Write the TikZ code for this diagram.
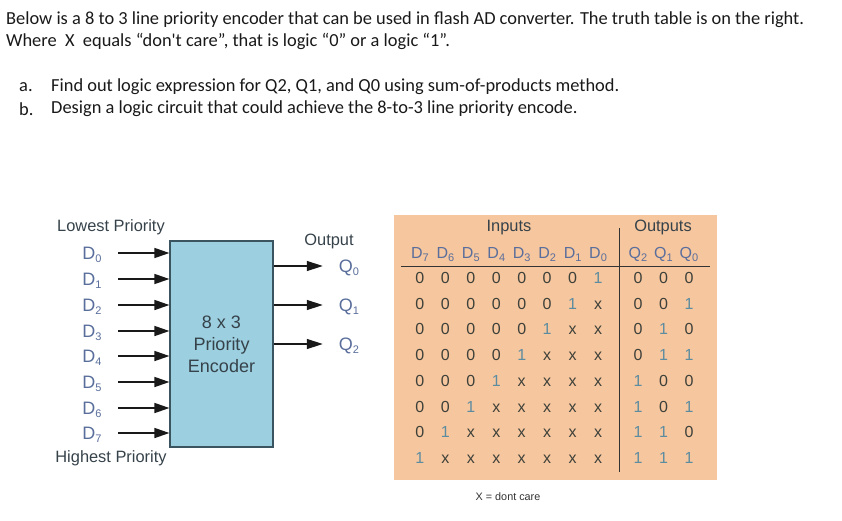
\documentclass[tikz,border=0pt]{standalone}
\usepackage{fontspec}
\setmainfont{Liberation Sans}
\newfontfamily\notefont{Carlito}
\usetikzlibrary{arrows.meta}

\definecolor{labelgray}{HTML}{36424A}
\definecolor{signalblue}{HTML}{5A6E9C}
\definecolor{blockblue}{HTML}{9CCFE0}
\definecolor{blockedge}{HTML}{3A5560}
\definecolor{tabletan}{HTML}{F6C69E}
\definecolor{digitgray}{HTML}{3E413A}
\definecolor{onecyan}{HTML}{5C8CA0}

\newcommand{\sg}[2]{\textcolor{signalblue}{#1\raisebox{-2.5pt}{\fontsize{11}{11}\selectfont #2}}}
\newcommand{\one}{\textcolor{onecyan}{1}}
\newcommand{\incells}[8]{\makebox[25.45pt]{#1}\makebox[25.45pt]{#2}\makebox[25.45pt]{#3}\makebox[25.45pt]{#4}\makebox[25.45pt]{#5}\makebox[25.45pt]{#6}\makebox[25.45pt]{#7}\makebox[25.45pt]{#8}}
\newcommand{\outcells}[3]{\makebox[25.5pt]{#1}\makebox[25.5pt]{#2}\makebox[25.5pt]{#3}}

\tikzset{
  notetext/.style={anchor=west,inner sep=0pt,text=black!90,font=\notefont\fontsize{18.4}{20}\selectfont},
  caption/.style={inner sep=0pt,text=labelgray,font=\fontsize{16.4}{18}\selectfont},
  inlabel/.style={inner sep=0pt,minimum width=52pt,text height=13pt,text depth=0pt,font=\fontsize{18}{20}\selectfont},
  inarrow/.style={-{Triangle[length=15pt,width=10pt]},line width=1.5pt,black!90},
  outarrow/.style={-{Triangle[length=16pt,width=10pt]},line width=1.2pt,black!90},
  rowtext/.style={inner sep=0pt,text=digitgray,text height=11pt,text depth=0pt,font=\fontsize{16}{17}\selectfont},
  headtext/.style={inner sep=0pt,text height=11pt,text depth=0pt,font=\fontsize{16}{17}\selectfont}
}

\begin{document}
\begin{tikzpicture}[x=1pt,y=-1pt]
  \useasboundingbox (0,0) rectangle (842,520);

  \node [notetext] (line1) at (6,19.5) {Below is a 8 to 3 line priority encoder that can be used in flash AD converter. The truth table is on the right.};
  \node [notetext] (line2) at (6,41.5) {Where\ \ X\ \ equals “don't care”, that is logic “0” or a logic “1”.};
  \node [notetext] (marka) at (19,87) {a.};
  \node [notetext] (parta) at (51,87) {Find out logic expression for Q2, Q1, and Q0 using sum-of-products method.};
  \node [notetext] (markb) at (19,109) {b.};
  \node [notetext] (partb) at (51,109) {Design a logic circuit that could achieve the 8-to-3 line priority encode.};

  \node [draw=blockedge,line width=1.2pt,fill=blockblue,minimum width=103pt,minimum height=206pt,inner sep=0pt,
         align=center,text=labelgray,font=\fontsize{18}{22}\selectfont] (encoder) at (221.5,344) {8 x 3\\Priority\\Encoder};

  \node [caption] (lowest) at (111,227) {Lowest Priority};
  \node [caption] (highest) at (111,458) {Highest Priority};
  \node [caption] (output) at (329,241) {Output};

  \node [inlabel] (d0) at (92,253) {\sg{D}{0}};
  \node [inlabel] (d1) at (92,279) {\sg{D}{1}};
  \node [inlabel] (d2) at (92,305) {\sg{D}{2}};
  \node [inlabel] (d3) at (92,331) {\sg{D}{3}};
  \node [inlabel] (d4) at (92,356) {\sg{D}{4}};
  \node [inlabel] (d5) at (92,382) {\sg{D}{5}};
  \node [inlabel] (d6) at (92,408) {\sg{D}{6}};
  \node [inlabel] (d7) at (92,433) {\sg{D}{7}};

  \draw [inarrow] (d0) -- (d0 -| encoder.west);
  \draw [inarrow] (d1) -- (d1 -| encoder.west);
  \draw [inarrow] (d2) -- (d2 -| encoder.west);
  \draw [inarrow] (d3) -- (d3 -| encoder.west);
  \draw [inarrow] (d4) -- (d4 -| encoder.west);
  \draw [inarrow] (d5) -- (d5 -| encoder.west);
  \draw [inarrow] (d6) -- (d6 -| encoder.west);
  \draw [inarrow] (d7) -- (d7 -| encoder.west);

  \node [inlabel] (q0) at (349,266) {\sg{Q}{0}};
  \node [inlabel] (q1) at (349,305) {\sg{Q}{1}};
  \node [inlabel] (q2) at (349,344) {\sg{Q}{2}};

  \draw [outarrow] (q0 -| encoder.east) -- (q0);
  \draw [outarrow] (q1 -| encoder.east) -- (q1);
  \draw [outarrow] (q2 -| encoder.east) -- (q2);

  % truth table
  \node [fill=tabletan,minimum width=323pt,minimum height=265pt,inner sep=0pt] (truth) at (555.5,347.5) {};
  \draw [line width=1pt,black!80] (401,266) -- (710,266);
  \draw [line width=1pt,black!80] (619,228) -- (619,472);

  \node [caption] (inputs) at (509,227.5) {Inputs};
  \node [caption] (outputs) at (663,227.5) {Outputs};

  \node [headtext] (inhead) at (509,253) {\incells{\sg{D}{7}}{\sg{D}{6}}{\sg{D}{5}}{\sg{D}{4}}{\sg{D}{3}}{\sg{D}{2}}{\sg{D}{1}}{\sg{D}{0}}};
  \node [headtext] (outhead) at (663.5,253) {\outcells{\sg{Q}{2}}{\sg{Q}{1}}{\sg{Q}{0}}};

  \node [rowtext] (in0) at (509,278) {\incells{0}{0}{0}{0}{0}{0}{0}{\one}};
  \node [rowtext] (in1) at (509,304) {\incells{0}{0}{0}{0}{0}{0}{\one}{x}};
  \node [rowtext] (in2) at (509,329) {\incells{0}{0}{0}{0}{0}{\one}{x}{x}};
  \node [rowtext] (in3) at (509,355) {\incells{0}{0}{0}{0}{\one}{x}{x}{x}};
  \node [rowtext] (in4) at (509,381) {\incells{0}{0}{0}{\one}{x}{x}{x}{x}};
  \node [rowtext] (in5) at (509,407) {\incells{0}{0}{\one}{x}{x}{x}{x}{x}};
  \node [rowtext] (in6) at (509,432) {\incells{0}{\one}{x}{x}{x}{x}{x}{x}};
  \node [rowtext] (in7) at (509,458) {\incells{\one}{x}{x}{x}{x}{x}{x}{x}};

  \node [rowtext] (out0) at (663.5,278) {\outcells{0}{0}{0}};
  \node [rowtext] (out1) at (663.5,304) {\outcells{0}{0}{\one}};
  \node [rowtext] (out2) at (663.5,329) {\outcells{0}{\one}{0}};
  \node [rowtext] (out3) at (663.5,355) {\outcells{0}{\one}{\one}};
  \node [rowtext] (out4) at (663.5,381) {\outcells{\one}{0}{0}};
  \node [rowtext] (out5) at (663.5,407) {\outcells{\one}{0}{\one}};
  \node [rowtext] (out6) at (663.5,432) {\outcells{\one}{\one}{0}};
  \node [rowtext] (out7) at (663.5,458) {\outcells{\one}{\one}{\one}};

  \node [inner sep=0pt,text=black!80,font=\fontsize{10.8}{12}\selectfont] (dontcare) at (508,497) {X = dont care};
\end{tikzpicture}
\end{document}
